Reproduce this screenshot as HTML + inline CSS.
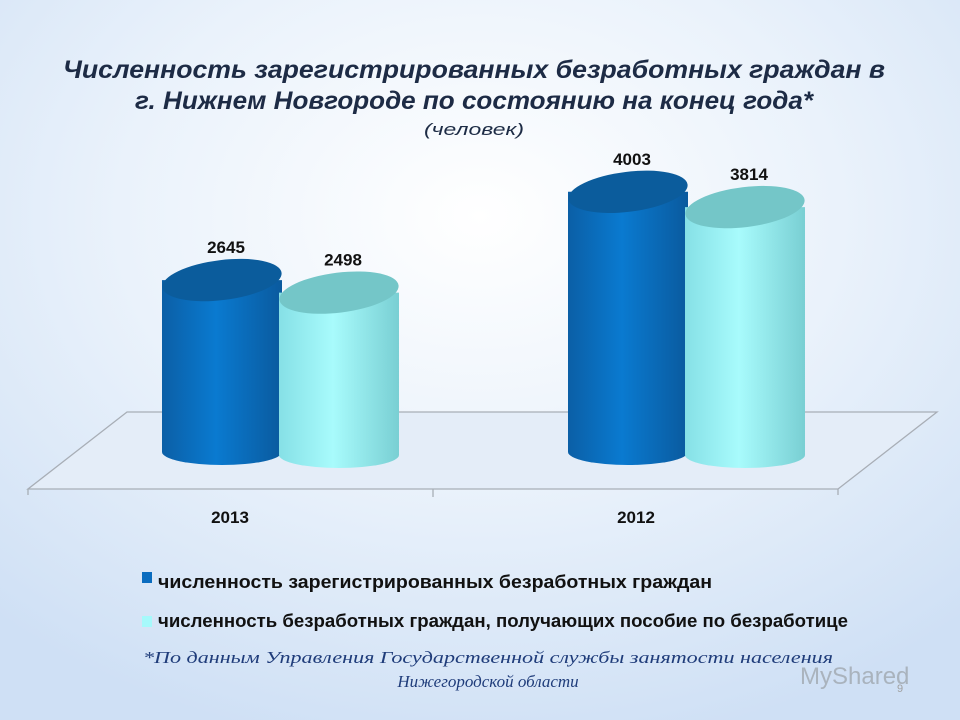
<!DOCTYPE html>
<html><head><meta charset="utf-8"><style>
html,body{margin:0;padding:0;width:960px;height:720px;overflow:hidden}
svg{display:block}
</style></head><body>
<svg width="960" height="720" viewBox="0 0 960 720" xmlns="http://www.w3.org/2000/svg">
<defs>
<radialGradient id="bg" cx="0.5" cy="0.3" r="0.75">
<stop offset="0" stop-color="#ffffff"/><stop offset="0.5" stop-color="#eaf2fb"/><stop offset="1" stop-color="#cfe0f5"/>
</radialGradient>
<linearGradient id="gb" x1="0" x2="1"><stop offset="0" stop-color="#0b5fa6"/><stop offset="0.45" stop-color="#0a7ad0"/><stop offset="1" stop-color="#0a5a9e"/></linearGradient>
<linearGradient id="gc" x1="0" x2="1"><stop offset="0" stop-color="#86e0e6"/><stop offset="0.45" stop-color="#a8fbfc"/><stop offset="1" stop-color="#79cfd3"/></linearGradient>
</defs>
<rect width="960" height="720" fill="url(#bg)"/>
<g font-family="'Liberation Sans Narrow','Liberation Sans',sans-serif" font-weight="bold" font-style="italic" fill="#1d2b45" text-anchor="middle">
<text x="474" y="78" font-size="25" textLength="822" lengthAdjust="spacingAndGlyphs">Численность зарегистрированных безработных граждан в</text>
<text x="474" y="109" font-size="25" textLength="678" lengthAdjust="spacingAndGlyphs">г. Нижнем Новгороде по состоянию на конец года*</text>
<text x="474" y="135" font-size="17" font-weight="normal" textLength="100" lengthAdjust="spacingAndGlyphs">(человек)</text>
</g>
<g fill="none" stroke="#a8aeb6" stroke-width="1.3">
<polygon points="127,412 937,412 838,489 28,489" fill="#e4edf8"/>
<line x1="28" y1="489" x2="28" y2="495"/><line x1="838" y1="489" x2="838" y2="495"/>
<line x1="433" y1="489" x2="433" y2="497"/>
</g>
<g id="bars"></g>
<g font-family="'Liberation Sans Narrow','Liberation Sans',sans-serif" font-weight="bold" font-size="17" fill="#111" text-anchor="middle">
<text x="230" y="523">2013</text>
<text x="636" y="523">2012</text>
</g>
<g font-family="'Liberation Sans Narrow','Liberation Sans',sans-serif" font-weight="bold" font-size="18" fill="#111">
<rect x="142" y="572" width="10" height="11" fill="#0a6cbf"/>
<text x="158" y="588" textLength="554" lengthAdjust="spacingAndGlyphs">численность зарегистрированных безработных граждан</text>
<rect x="142" y="616" width="10" height="11" fill="#a6f9fb"/>
<text x="158" y="627" textLength="690" lengthAdjust="spacingAndGlyphs">численность безработных граждан, получающих пособие по безработице</text>
</g>
<g font-family="'Liberation Serif',serif" font-style="italic" font-size="17" fill="#1f3c7a" text-anchor="middle">
<text x="488" y="663" textLength="690" lengthAdjust="spacingAndGlyphs">*По данным Управления Государственной службы занятости населения</text>
<text x="488" y="687">Нижегородской области</text>
</g>
<text x="800" y="684" font-family="'Liberation Sans Narrow','Liberation Sans',sans-serif" font-size="24" fill="#9aa0a6" opacity="0.7">MyShared</text>
<text x="897" y="692" font-family="'Liberation Sans',sans-serif" font-size="11" fill="#a0a0a0">9</text>
<script>
const categories = ['2013','2012'];
const registered = [2645, 4003];
const benefit = [2498, 3814];
const catX = [222, 628]; // group centres
function yScale(v, base){ return base - v*0.065; }
const g = document.getElementById('bars');
const NS='http://www.w3.org/2000/svg';
function cyl(cx, base, val, fill, topFill, name, label){
  const top = yScale(val, base), rx=60, ry=20, bry=13;
  const grp=document.createElementNS(NS,'g');
  
  
  const p=document.createElementNS(NS,'path');
  p.setAttribute('d',`M${cx-rx},${top} L${cx-rx},${base} A${rx},${bry} 0 0 0 ${cx+rx},${base} L${cx+rx},${top} Z`);
  p.setAttribute('fill',fill);
  grp.appendChild(p);
  const e=document.createElementNS(NS,'ellipse');
  e.setAttribute('cx',cx);e.setAttribute('cy',top);e.setAttribute('rx',rx);e.setAttribute('ry',ry);
  e.setAttribute('transform',`rotate(-7 ${cx} ${top})`);
  e.setAttribute('fill',topFill);
  grp.appendChild(e);
  const t=document.createElementNS(NS,'text');
  t.setAttribute('x',cx+4);t.setAttribute('y',top-27);
  t.setAttribute('text-anchor','middle');
  t.setAttribute('font-family',"'Liberation Sans Narrow','Liberation Sans',sans-serif");
  t.setAttribute('font-weight','bold');t.setAttribute('font-size','17');t.setAttribute('fill','#111');
  t.textContent=label;
  
  
  grp.appendChild(t);
  g.appendChild(grp);
}
categories.forEach((c,i)=>{
  cyl(catX[i], 452, registered[i], 'url(#gb)', '#0b5c9c', 'bar-registered-'+c, String(registered[i]));
  cyl(catX[i]+117, 455, benefit[i], 'url(#gc)', '#74c6c8', 'bar-benefit-'+c, String(benefit[i]));
});
</script>
</svg>
</body></html>
